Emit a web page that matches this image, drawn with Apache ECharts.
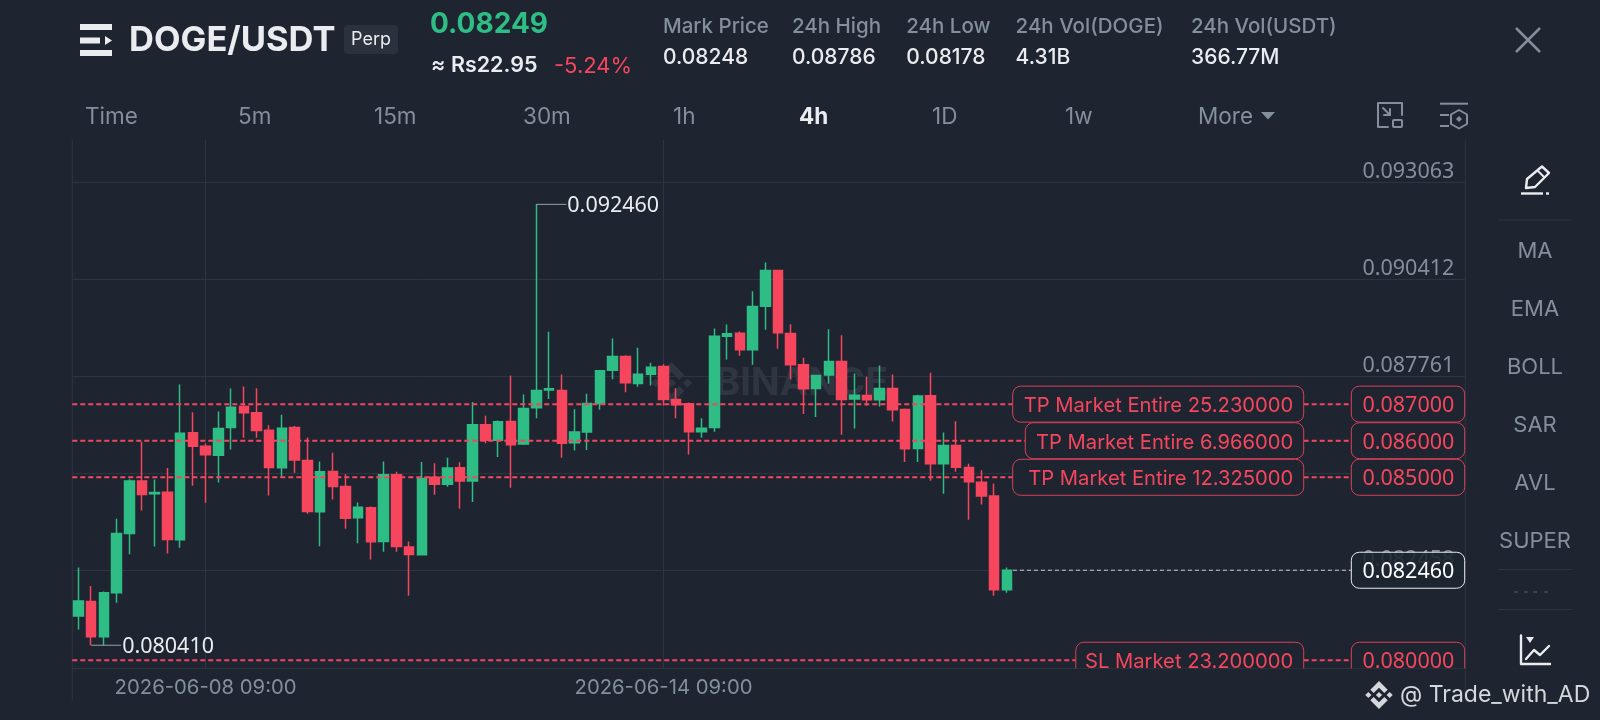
<!DOCTYPE html>
<html><head><meta charset="utf-8">
<style>html,body{margin:0;padding:0;background:#1E2530}#c{width:1600px;height:720px}</style>
<script src="https://cdn.jsdelivr.net/npm/echarts@6/dist/echarts.min.js"></script>
</head><body><div id="c"></div>
<script>
// prices in millionths of USDT
const opens=[81206,81607,80641,81844,83465,84896,84549,84595,83292,86217,85852,85606,86362,86936,86763,86289,85260,86362,85460,84057,85160,84750,83893,84167,83247,85069,83092,82886,85000,84809,85264,84900,86435,86016,86526,85907,86900,87383,87374,85943,86235,87018,87929,88303,87565,87820,88029,87128,87009,86244,86362,88858,88940,88485,89678,90653,88931,88075,87428,87793,88166,87137,87237,87118,87428,86854,85788,87228,85369,85870,85269,84868,84486,81926];
const closes=[81616,80641,81844,83465,84896,84531,84586,83301,86207,85852,85615,86335,86918,86763,86280,85269,86344,85470,84067,85151,84750,83884,84185,83238,85069,83110,82891,84968,84809,85255,84900,86435,86016,86517,85889,86882,87374,87419,85934,86235,87018,87911,88303,87583,87820,88011,87128,86982,86244,86344,88858,88922,88485,89669,90653,88950,88075,87419,87783,88166,87128,87246,87118,87428,86845,85779,87219,85369,85870,85278,84877,84486,81926,82460];
const lows=[80842,80410,80413,81570,82900,84094,83110,82919,83074,84768,84303,84859,85761,86080,86080,84504,85005,85123,84003,83119,84395,83593,83201,82755,82964,82964,81762,82886,84526,84745,84144,84326,85934,85552,84713,85880,86617,87137,85533,85734,85743,86845,87683,87328,87474,87510,86964,86617,85624,86080,86244,88221,88321,88075,89032,88512,87683,86727,86645,87556,86162,86335,86954,86936,86526,85415,85415,84905,84549,85151,83839,84258,81762,81844];
const highs=[82536,82026,81880,83866,84950,85971,84941,85251,87537,86781,85925,86800,87428,87483,87437,86426,86708,86399,86089,85433,85670,85087,84313,84203,85433,85151,83247,85418,85383,85537,85410,87055,86681,86554,87783,87264,92460,88977,87811,86863,87282,87920,88795,88339,88540,88130,88093,87437,87046,86617,89068,89177,88986,90088,90872,90653,89186,88266,87783,89050,88886,87838,87747,88057,87811,86882,87255,87856,86226,86535,85369,85196,84832,82536];
const gridTicks=[0.093063,0.090412,0.087761,0.085109,0.082458];
const xTickIndex=[10,46];
const xTickLabels=['2026-06-08 09:00','2026-06-14 09:00'];
const orderPrices=[0.087,0.086,0.085,0.08];
const orderLabels=['TP Market Entire 25.230000','TP Market Entire 6.966000','TP Market Entire 12.325000','SL Market 23.200000'];
const lastPrice=0.08246;
const lastIndex=73;
const extremes=[{i:36,v:0.09246},{i:1,v:0.08041}];
const tabs=['Time','5m','15m','30m','1h','4h','1D','1w','More'];
const stats=['Mark Price','24h High','24h Low','24h Vol(DOGE)','24h Vol(USDT)'];
const statValues=['0.08248','0.08786','0.08178','4.31B','366.77M'];
const tools=['MA','EMA','BOLL','SAR','AVL','SUPER'];

// layout
const BG='#1E2530',GRID='#2E3540',GREY='#848E9C',WHITE='#EAECEF',RED='#F6465D',GREEN='#2EBD85';
const FONT='Inter',NUM='"Noto Sans"';
const orderBoxLeft=[1012.7,1025.3,1012.7,1075.8];
const tabX=[85,238,374,523,673,799,932,1065,1198];
const statX=[663,792,906.3,1015.6,1191];
const toolY=[251,309,367,425.5,483.5,541];

const candles=opens.map((o,i)=>[i,o/1e6,closes[i]/1e6,lows[i]/1e6,highs[i]/1e6]);

function t(x,y,text,size,fill,weight,align){
  return {type:'text',silent:true,z:10,style:{x,y,text,fill,font:(weight||400)+' '+size+'px '+FONT,textAlign:align||'left',textVerticalAlign:'middle'}};
}
function line(x1,y1,x2,y2,stroke,w,z){
  return {type:'line',silent:true,z:z||10,shape:{x1,y1,x2,y2},style:{stroke,lineWidth:w||1}};
}
function poly(points,style,z,open){
  return {type:open?'polyline':'polygon',silent:true,z:z||10,shape:{points},style};
}
function binance(cx,cy,s,fill,z){
  const sets=[[[0,-1],[.62,-.38],[.38,-.14],[0,-.52],[-.38,-.14],[-.62,-.38]],
    [[0,1],[.62,.38],[.38,.14],[0,.52],[-.38,.14],[-.62,.38]],
    [[0,-.22],[.22,0],[0,.22],[-.22,0]],
    [[-.76,-.22],[-.54,0],[-.76,.22],[-.98,0]],
    [[.76,-.22],[.98,0],[.76,.22],[.54,0]]];
  return sets.map(p=>poly(p.map(q=>[cx+q[0]*s,cy+q[1]*s]),{fill},z));
}
const iconStroke=(stroke,w)=>({stroke,lineWidth:w,fill:'none',lineJoin:'round',lineCap:'round'});

const graphics=[
  // frame
  line(72.3,140,72.3,700,GRID,1,1), line(1465.3,140,1465.3,700,GRID,1,1),
  // watermark in chart
  ...binance(671.5,383,21,'#2F3641',1),
  {type:'text',silent:true,z:1,style:{x:715,y:384,text:'BINANCE',fill:'#2F3641',font:'700 38px '+FONT,textVerticalAlign:'middle'}},
  // menu icon
  {type:'rect',silent:true,shape:{x:80,y:24,width:32,height:6},style:{fill:WHITE}},
  {type:'rect',silent:true,shape:{x:80,y:37.5,width:20,height:6},style:{fill:WHITE}},
  {type:'rect',silent:true,shape:{x:80,y:50,width:32,height:6},style:{fill:WHITE}},
  poly([[105,36],[112,40.5],[105,45]],{fill:WHITE}),
  t(129,41,'DOGE/USDT',34.5,WHITE,700),
  {type:'rect',silent:true,shape:{x:344,y:25,width:54,height:29,r:4},style:{fill:'#2B323D'}},
  t(371,40,'Perp',18,WHITE,400,'center'),
  t(430,25,'0.08249',28,GREEN,700),
  t(431,66,'≈ Rs22.95',21.5,WHITE,600),
  t(554,66,'-5.24%',22,RED,400),
  ...stats.map((s,i)=>t(statX[i],26.5,s,20.5,GREY,500)),
  ...statValues.map((s,i)=>t(statX[i],57.5,s,21,WHITE,500)),
  ...tabs.map((s,i)=>t(tabX[i],117.5,s,22.5,i===5?WHITE:GREY,i===5?700:400)),
  poly([[1261,112],[1275,112],[1268,119.5]],{fill:GREY}),
  // expand icon
  poly([[1388,127],[1378,127],[1378,103],[1402,103],[1402,115]],iconStroke(GREY,2),10,true),
  {type:'rect',silent:true,z:10,shape:{x:1393,y:120,width:9,height:7,r:1},style:iconStroke(GREY,2)},
  poly([[1383,108],[1390,115]],iconStroke(GREY,2),10,true),
  poly([[1390,109],[1390,115],[1384,115]],iconStroke(GREY,2),10,true),
  // settings icon
  line(1440,103.7,1468,103.7,GREY,2), line(1440,115,1449,115,GREY,2), line(1440,126,1449,126,GREY,2),
  poly([[1459,110],[1467,114.5],[1467,124],[1459,128.5],[1451,124],[1451,114.5]],iconStroke(GREY,2)),
  poly([[1459,116],[1462,119],[1459,122],[1456,119]],{fill:GREY}),
  // close
  line(1516,28,1540,52,GREY,2.5), line(1540,28,1516,52,GREY,2.5),
  // sidebar
  poly([[1526,188],[1527,179],[1542,166.5],[1549,173],[1535,187]],iconStroke(WHITE,2.4)),
  line(1538,171,1545,178,WHITE,2),
  line(1521,193.5,1543,193.5,WHITE,2.4), line(1546,193.5,1549,193.5,WHITE,2.4),
  line(1498,220,1572,220,GRID,1),
  ...tools.map((s,i)=>t(1535,toolY[i],s,22,GREY,400,'center')),
  line(1498,569.5,1572,569.5,GRID,1),
  line(1514,592,1518,592,'#59616C',1), line(1524,592,1528,592,'#59616C',1), line(1533,592,1537,592,'#59616C',1), line(1544,592,1548,592,'#59616C',1),
  line(1498,609.5,1572,609.5,GRID,1),
  poly([[1521,635.5],[1521,664],[1550,664]],iconStroke(WHITE,2.4),10,true),
  poly([[1526,659],[1534,650],[1540,655],[1549,646]],iconStroke(WHITE,2.4),10,true),
  poly([[1526,637],[1534,637],[1530,643]],{fill:WHITE}),
  // footer watermark
  ...binance(1379,695,14,'#D5D7DB',10),
  t(1400,695.5,'@ Trade_with_AD',23,'#D5D7DB',400)
];

const option={
  animation:false,
  backgroundColor:BG,
  textStyle:{fontFamily:FONT},
  grid:{left:72.3,right:134.7,top:140,bottom:51.7},
  xAxis:{type:'value',min:-0.48,max:109.035,
    axisLine:{show:true,lineStyle:{color:GRID,width:1}},
    axisTick:{show:false,customValues:xTickIndex},
    axisLabel:{customValues:xTickIndex,color:GREY,fontSize:20.3,margin:10,fontFamily:FONT,
      formatter:v=>xTickLabels[xTickIndex.indexOf(v)]||''},
    splitLine:{show:true,lineStyle:{color:GRID,width:1}}},
  yAxis:{type:'value',position:'right',min:0.07978,max:0.094219,
    axisLine:{show:false},
    axisTick:{show:false,customValues:gridTicks},
    axisLabel:{customValues:gridTicks,inside:true,margin:11,color:GREY,fontSize:21.5,fontFamily:'Noto Sans',verticalAlign:'bottom',lineHeight:20,
      formatter:v=>v.toFixed(6)},
    splitLine:{show:true,lineStyle:{color:GRID,width:1}}},
  graphic:graphics,
  series:[
    {type:'candlestick',data:candles,barWidth:10,silent:true,z:3,
      itemStyle:{color:GREEN,color0:RED,borderColor:GREEN,borderColor0:RED,borderWidth:1.5}},
    {type:'custom',name:'orders',z:4,silent:true,clip:true,
      data:orderPrices.map((p,i)=>[i,p]),encode:{x:0,y:1},
      renderItem(params,api){
        const i=params.dataIndex,y=api.coord([0,orderPrices[i]])[1],l=orderBoxLeft[i];
        const dash={stroke:RED,lineWidth:2,lineDash:[5,3]};
        const box=(x,w)=>({type:'rect',shape:{x,y:y-18,width:w,height:36,r:8},style:{fill:BG,stroke:'#D8405A',lineWidth:1}});
        const text=(x,s,f)=>({type:'text',style:{x,y:y+2,text:s,fill:RED,font:f,textAlign:'right',textVerticalAlign:'middle'}});
        return {type:'group',children:[
          {type:'line',shape:{x1:72.3,y1:y,x2:l,y2:y},style:dash},
          {type:'line',shape:{x1:1303.7,y1:y,x2:1351.3,y2:y},style:dash},
          box(l,1303.7-l),box(1351.3,113.4),
          text(1293.3,orderLabels[i],'400 20.2px '+FONT),text(1454.3,orderPrices[i].toFixed(6),'400 21.5px '+NUM)
        ]};
      }},
    {type:'custom',name:'last',z:5,silent:true,
      data:[[lastIndex,lastPrice]],encode:{x:0,y:1},
      renderItem(params,api){
        const p=api.coord([lastIndex,lastPrice]);
        return {type:'group',children:[
          {type:'line',shape:{x1:p[0]+6,y1:p[1],x2:1351.3,y2:p[1]},style:{stroke:'#C9CCD1',lineWidth:1,lineDash:[4,3]}},
          {type:'rect',shape:{x:1351.3,y:p[1]-18,width:113.4,height:36,r:8},style:{fill:'rgba(30,37,48,0.88)',stroke:WHITE,lineWidth:1}},
          {type:'text',style:{x:1454.3,y:p[1]+1.5,text:lastPrice.toFixed(6),fill:'#FFFFFF',font:'400 21.5px '+NUM,textAlign:'right',textVerticalAlign:'middle'}}
        ]};
      }},
    {type:'custom',name:'extremes',z:5,silent:true,
      data:extremes.map(e=>[e.i,e.v]),encode:{x:0,y:1},
      renderItem(params,api){
        const e=extremes[params.dataIndex],p=api.coord([e.i,e.v]);
        return {type:'group',children:[
          {type:'line',shape:{x1:p[0],y1:p[1],x2:p[0]+30,y2:p[1]},style:{stroke:'#9AA0A8',lineWidth:1}},
          {type:'text',style:{x:p[0]+31,y:p[1]+1.5,text:e.v.toFixed(6),fill:WHITE,font:'400 21.5px '+NUM,textVerticalAlign:'middle'}}
        ]};
      }}
  ]
};
echarts.init(document.getElementById('c')).setOption(option);
</script></body></html>
